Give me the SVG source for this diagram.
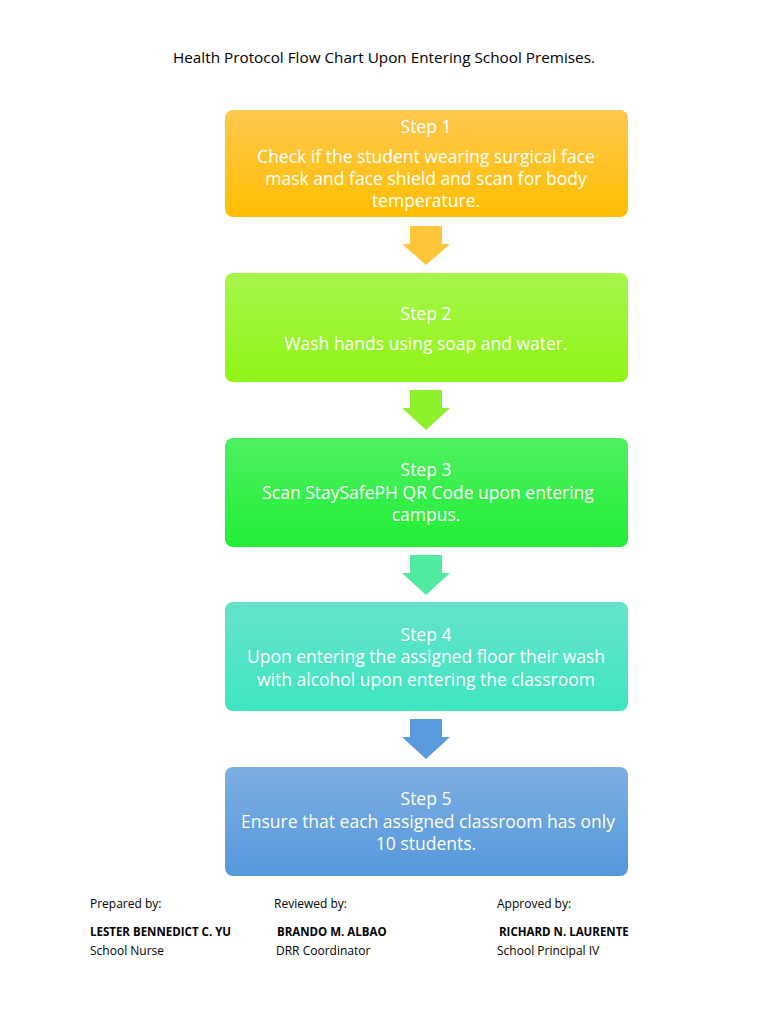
<svg xmlns="http://www.w3.org/2000/svg" width="768" height="1024" viewBox="0 0 768 1024">
<defs>
<linearGradient id="g1" x1="0" y1="0" x2="0" y2="1"><stop offset="0" stop-color="#ffc850"/><stop offset="1" stop-color="#ffbe00"/></linearGradient>
<linearGradient id="g2" x1="0" y1="0" x2="0" y2="1"><stop offset="0" stop-color="#a6f64c"/><stop offset="1" stop-color="#90f416"/></linearGradient>
<linearGradient id="g3" x1="0" y1="0" x2="0" y2="1"><stop offset="0" stop-color="#4ef060"/><stop offset="1" stop-color="#22ee36"/></linearGradient>
<linearGradient id="g4" x1="0" y1="0" x2="0" y2="1"><stop offset="0" stop-color="#66e2ca"/><stop offset="1" stop-color="#3ee6c0"/></linearGradient>
<linearGradient id="g5" x1="0" y1="0" x2="0" y2="1"><stop offset="0" stop-color="#7eaee2"/><stop offset="1" stop-color="#5498dc"/></linearGradient>
</defs>
<style>
text{font-family:"Open Sans","Liberation Sans",sans-serif}
.t{fill:#fff;font-size:17.5px;text-anchor:middle}
.s{fill:#000;font-size:12px}
.b{font-weight:bold;font-size:11.5px}
</style>
<rect width="768" height="1024" fill="#fff"/>
<text x="384" y="63" text-anchor="middle" font-size="15.3" fill="#000">Health Protocol Flow Chart Upon Entering School Premises.</text>
<g id="connectors">
<polygon points="410,226 442,226 442,244 450,244 426,265 402,244 410,244" fill="#ffc53a"/>
<polygon points="410,390 442,390 442,408 450,408 426,430 402,408 410,408" fill="#8ef02a"/>
<polygon points="410,555 442,555 442,573 450,573 426,595 402,573 410,573" fill="#50eaa0"/>
<polygon points="410,719 442,719 442,737 450,737 426,759 402,737 410,737" fill="#5a9ade"/>
</g>
<g id="step1"><rect x="225" y="110" width="403" height="107" rx="8" fill="url(#g1)"/>
<text class="t" x="426" y="133">Step 1</text><text class="t" x="426" y="163">Check if the student wearing surgical face</text><text class="t" x="426" y="185">mask and face shield and scan for body</text><text class="t" x="426" y="207">temperature.</text></g>
<g id="step2"><rect x="225" y="273" width="403" height="109" rx="8" fill="url(#g2)"/>
<text class="t" x="426" y="320">Step 2</text><text class="t" x="426" y="350">Wash hands using soap and water.</text></g>
<g id="step3"><rect x="225" y="438" width="403" height="109" rx="8" fill="url(#g3)"/>
<text class="t" x="426" y="476">Step 3</text><text class="t" x="428" y="499">Scan StaySafePH QR Code upon entering</text><text class="t" x="426" y="521">campus.</text></g>
<g id="step4"><rect x="225" y="602" width="403" height="109" rx="8" fill="url(#g4)"/>
<text class="t" x="426" y="641">Step 4</text><text class="t" x="426" y="663">Upon entering the assigned floor their wash</text><text class="t" x="426" y="686">with alcohol upon entering the classroom</text></g>
<g id="step5"><rect x="225" y="767" width="403" height="109" rx="8" fill="url(#g5)"/>
<text class="t" x="426" y="805">Step 5</text><text class="t" x="428" y="828">Ensure that each assigned classroom has only</text><text class="t" x="426" y="850">10 students.</text></g>
<g id="signatures">
<text class="s" x="90" y="908">Prepared by:</text>
<text class="s" x="274" y="908">Reviewed by:</text>
<text class="s" x="497" y="908">Approved by:</text>
<text class="s b" x="90" y="936">LESTER BENNEDICT C. YU</text>
<text class="s b" x="277" y="936">BRANDO M. ALBAO</text>
<text class="s b" x="499" y="936">RICHARD N. LAURENTE</text>
<text class="s" x="90" y="955">School Nurse</text>
<text class="s" x="276" y="955">DRR Coordinator</text>
<text class="s" x="497" y="955">School Principal IV</text>
</g>
</svg>
